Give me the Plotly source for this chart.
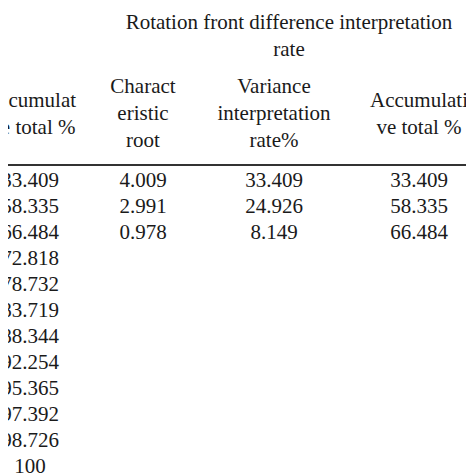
import plotly.graph_objects as go

title_lines = ["Rotation front difference interpretation", "rate"]
headers = [["Accumulat", "ive total %"], ["Charact", "eristic", "root"],
           ["Variance", "interpretation", "rate%"], ["Accumulati", "ve total %"]]
col0 = ["33.409", "58.335", "66.484", "72.818", "78.732", "83.719", "88.344",
        "92.254", "95.365", "97.392", "98.726", "100"]
col1 = ["4.009", "2.991", "0.978"]
col2 = ["33.409", "24.926", "8.149"]
col3 = ["33.409", "58.335", "66.484"]

col_x = [22, 135, 266, 411]
F = dict(family="Liberation Serif", size=21, color="#1a1a1a")

xs, ys, ts = [], [], []
for i, t in enumerate(title_lines):
    xs.append(281); ys.append(16 + 27 * i); ts.append(t)
for cx, h in zip(col_x, headers):
    n = len(h)
    start = 107 - (n - 1) * 27 / 2
    for j, t in enumerate(h):
        xs.append(cx); ys.append(start + 27 * j); ts.append(t)
for cx, col in zip(col_x, [col0, col1, col2, col3]):
    for r, v in enumerate(col):
        xs.append(cx); ys.append(174 + 26 * r); ts.append(v)

fig = go.Figure(go.Scatter(x=xs, y=ys, text=ts, mode="text", textfont=F,
                           textposition="middle center", cliponaxis=True,
                           hoverinfo="skip"))
fig.add_shape(type="line", x0=0, x1=474, y0=157, y1=157, xref="x", yref="y",
              line=dict(color="#333", width=2))
fig.update_layout(width=474, height=474, margin=dict(l=0, r=0, t=0, b=0),
                  paper_bgcolor="white", plot_bgcolor="white", showlegend=False,
                  font=dict(family="Liberation Serif"),
                  xaxis=dict(range=[0, 474], visible=False, fixedrange=True),
                  yaxis=dict(range=[474, 0], visible=False, fixedrange=True))
fig.write_html("out.html", config={"displayModeBar": False})
